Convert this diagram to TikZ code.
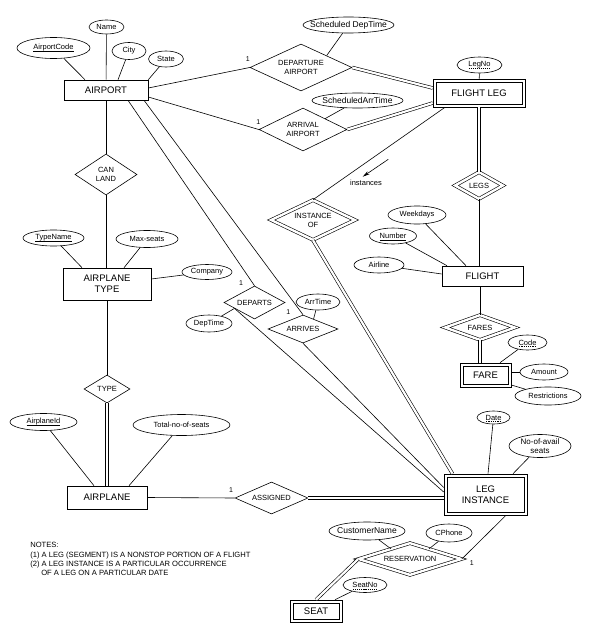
\documentclass[tikz,border=0pt]{standalone}
\usepackage{fontspec}
\setmainfont{Liberation Sans}
\usetikzlibrary{shapes.geometric,arrows.meta,calc}
\newcommand\zb[1]{\makebox[0pt]{#1}}
\newsavebox\ulbox
\newcommand\sul[1]{\sbox\ulbox{#1}\rlap{\smash{\raisebox{-1.6pt}{\rule{\wd\ulbox}{0.45pt}}}}\usebox\ulbox}
\newcommand\dul[1]{\sbox\ulbox{#1}\rlap{\smash{\raisebox{-1.6pt}{\hbox to \wd\ulbox{\xleaders\hbox to 2pt{\hss\rule{1.1pt}{0.45pt}\hss}\hfill}}}}\usebox\ulbox}
\begin{document}
\begin{tikzpicture}[x=1pt,y=-1pt,line width=0.6pt,
  ent/.style={draw, rectangle, inner sep=0pt, font=\fontsize{9.5}{11}\selectfont, align=center},
  rel/.style={draw, diamond, inner sep=0pt, font=\fontsize{7.5}{9}\selectfont, align=center},
  wrel/.style={rel, double, double distance=2.4pt},
  attr/.style={draw, ellipse, inner sep=0pt, font=\fontsize{7.5}{9}\selectfont},
  big/.style={font=\fontsize{8.5}{10}\selectfont},
  card/.style={font=\fontsize{7}{8}\selectfont, inner sep=0pt},
  note/.style={font=\fontsize{7.6}{9}\selectfont, inner sep=0pt, anchor=base west},
  dbl/.style={double, double distance=2.2pt},
  sz/.style 2 args={minimum width=#1pt, minimum height=#2pt}]
\fill[white] (0,0) rectangle (598,642);
\useasboundingbox (0,0) rectangle (598,642);

% AIRPORT
\node[ent, sz={84}{20}] (AP) at (106,90) {AIRPORT};
\node[attr, sz={35}{14}] (Name) at (106.5,27) {\zb{Name}};
\node[attr, sz={73}{21}] (AC) at (53.5,48) {\zb{\sul{AirportCode}}};
\node[attr, sz={34}{17}] (City) at (129,51) {\zb{City}};
\node[attr, sz={35}{16}] (State) at (166,59) {\zb{State}};
\node[rel, sz={62}{41}, aspect=1.51] (CL) at (106,174.5) {CAN\\LAND};

% AIRPLANE TYPE
\node[ent, sz={88}{32}] (AT) at (107,284) {AIRPLANE\\TYPE};
\node[attr, sz={61}{16}] (TN) at (53.5,238) {\zb{\sul{TypeName}}};
\node[attr, sz={62}{17}] (MS) at (147,239) {\zb{Max-seats}};
\node[attr, sz={50}{15}] (CO) at (207,272) {\zb{Company}};
\node[rel, sz={46}{28}, aspect=1.64] (TY) at (107,389) {TYPE};

% AIRPLANE
\node[ent, sz={80}{23}] (APL) at (107,497.5) {AIRPLANE};
\node[attr, sz={67}{17}] (AI) at (43.5,422) {\zb{\sul{AirplaneId}}};
\node[attr, sz={97}{21}] (TS) at (181.5,425) {\zb{Total-no-of-seats}};
\node[rel, sz={73}{32}, aspect=2.28] (AS) at (271.5,498) {ASSIGNED};

% departure / arrival airport
\node[rel, sz={102}{47}, aspect=2.17] (DA) at (301,67.5) {DEPARTURE\\AIRPORT};
\node[rel, sz={88}{43}, aspect=2.05] (AA) at (303,129.5) {ARRIVAL\\AIRPORT};
\node[attr, big, sz={91}{16}] (SD) at (348.5,25) {\zb{Scheduled DepTime}};
\node[attr, big, sz={91}{15}] (SA) at (357.5,100.5) {\zb{ScheduledArrTime}};

% FLIGHT LEG
\node[ent, sz={92}{28}] (FL) at (479,93) {FLIGHT LEG};
\draw ([shift={(3.5pt,-3.5pt)}]FL.north west) rectangle ([shift={(-3.5pt,3.5pt)}]FL.south east);
\node[attr, sz={45}{16}] (LN) at (479.5,65) {\zb{\dul{LegNo}}};
\node[wrel, sz={84}{40}, aspect=2.1] (IO) at (313,220) {INSTANCE\\OF};
\node[wrel, sz={48}{27}, aspect=1.78] (LEGS) at (479,185.5) {LEGS};

% FLIGHT
\node[ent, sz={81}{20}] (FLT) at (482.5,276) {FLIGHT};
\node[attr, sz={58}{18}] (WD) at (417,215) {\zb{Weekdays}};
\node[attr, sz={47}{16}] (NU) at (393,236) {\zb{\sul{Number}}};
\node[attr, sz={50}{16}] (AL) at (379,265) {\zb{Airline}};
\node[wrel, sz={70}{25}, aspect=2.8] (FARES) at (480,327.5) {FARES};

% FARE
\node[ent, sz={51}{24}] (FARE) at (485.5,375) {FARE};
\draw ([shift={(3.5pt,-3.5pt)}]FARE.north west) rectangle ([shift={(-3.5pt,3.5pt)}]FARE.south east);
\node[attr, sz={39}{15}] (CD) at (527.5,342.5) {\zb{\dul{Code}}};
\node[attr, sz={48}{16}] (AM) at (544,372) {\zb{Amount}};
\node[attr, sz={66}{18}] (RS) at (548,396) {\zb{Restrictions}};

% DEPARTS / ARRIVES
\node[rel, sz={61}{33}, aspect=1.85] (DEP) at (254.5,302.5) {DEPARTS};
\node[attr, sz={46}{17}] (DT) at (209,323.5) {\zb{DepTime}};
\node[rel, sz={70}{28}, aspect=2.5] (ARR) at (303,329) {ARRIVES};
\node[attr, sz={44}{16}] (ART) at (318,302) {\zb{ArrTime}};

% LEG INSTANCE
\node[ent, sz={83}{41}] (LI) at (485.5,494.5) {LEG\\INSTANCE};
\draw ([shift={(3.5pt,-3.5pt)}]LI.north west) rectangle ([shift={(-3.5pt,3.5pt)}]LI.south east);
\node[attr, sz={33}{13}] (DTE) at (493.5,417.5) {\zb{\dul{Date}}};
\node[attr, sz={62}{23}, align=center, font=\fontsize{8}{9}\selectfont] (NA) at (540,446) {No-of-avail\\seats};

% RESERVATION / SEAT
\node[wrel, sz={103}{32}, aspect=3.2] (RES) at (410,559) {RESERVATION};
\node[attr, big, sz={76}{18}] (CN) at (367,531) {\zb{CustomerName}};
\node[attr, sz={46}{18}] (CP) at (449,533) {\zb{CPhone}};
\node[ent, sz={52}{22}] (SEAT) at (316,611) {SEAT};
\draw ([shift={(3.5pt,-3.5pt)}]SEAT.north west) rectangle ([shift={(-3.5pt,3.5pt)}]SEAT.south east);
\node[attr, sz={44}{15}] (SN) at (365,585) {\zb{\dul{SeatNo}}};

% connectors: AIRPORT
\draw (Name) -- (AP);
\draw (AC) -- ([xshift=-21pt]AP.north);
\draw (City) -- ([xshift=12pt]AP.north);
\draw (State) -- (AP.north east);
\draw (AP) -- (CL);
\draw (CL.south) -- (CL.south |- AT.north);
\draw (TN) -- ([xshift=-25pt]AT.north);
\draw (MS) -- ([xshift=17pt]AT.north);
\draw (CO) -- ([yshift=5pt]AT.east);
\draw (AT) -- (TY);
\draw[dbl] (TY.south) -- (APL.north);
\draw (AI) -- ([xshift=-13pt]APL.north);
\draw (TS) -- ([xshift=22pt]APL.north);
\draw (APL.east) -- (AS.west);
\draw[dbl] (AS.east) -- (AS.east -| LI.west);

\draw ([yshift=2pt]AP.east) -- (DA.west);
\draw ([yshift=-7pt]AP.east) -- (AA.west);
\draw (SD) -- (DA.north east);
\draw (SA) -- (AA.north east);
\draw[dbl] (DA.east) -- ([yshift=5pt]FL.west);
\draw[dbl] (AA.east) -- ([yshift=-10pt]FL.west);
\draw (LN) -- (FL);

\draw ([xshift=-34pt]FL.south) -- (IO.north);
\coordinate (ia) at (388.3,159.3);
\coordinate (ib) at (362.7,176.7);
\draw[-{Stealth[length=7pt,width=3.5pt]}] (ia) -- (ib);
\node[font=\fontsize{7.5}{9}\selectfont, inner sep=0pt] (inst) at (366,183) {instances};
\draw[dbl] (IO.south) -- ([xshift=-33pt]LI.north);

\draw[dbl] (FL) -- (LEGS);
\draw (LEGS.south) -- (LEGS.south |- FLT.north);
\draw (WD) -- ([xshift=-16.5pt]FLT.north);
\draw (NU) -- ([xshift=-35.5pt]FLT.north);
\draw (AL) -- ([yshift=2pt]FLT.west);
\draw (FARES.north |- FLT.south) -- (FARES.north);
\draw[dbl] (FARES.south) -- (FARES.south |- FARE.north);
\draw (CD) -- ([xshift=14.5pt]FARE.north);
\draw (AM.west) -- (AM.west -| FARE.east);
\draw (RS) -- ([yshift=-10pt]FARE.east);

\draw ([xshift=22pt]AP.south) -- (DEP.north);
\draw ([xshift=38pt]AP.south) -- (ARR.north);
\coordinate (depsw) at ($(DEP.west)!0.35!(DEP.south)$);
\draw (depsw) -- ([yshift=2.5pt]LI.west);
\draw (ARR.south) -- ([yshift=7pt]LI.west);
\draw (DT) -- (depsw);
\draw (ART) -- ($(ARR.north)!0.3!(ARR.east)$);

\draw (DTE) -- ([xshift=2.5pt]LI.north);
\draw (NA) -- ([xshift=27.5pt]LI.north);
\draw ([xshift=20.5pt]LI.south) -- (RES.east);
\draw (CN) -- ($(RES.north)!0.37!(RES.west)$);
\draw (CP) -- ($(RES.north)!0.37!(RES.east)$);
\draw[dbl] (SEAT.north) -- (RES.west);
\draw (SN) -- ([xshift=19pt]SEAT.north);

% cardinalities
\node[card] (c1) at (247.7,59.3) {1};
\node[card] (c2) at (258.3,122) {1};
\node[card] (c3) at (241,283.3) {1};
\node[card] (c4) at (288.3,312.3) {1};
\node[card] (c5) at (231,490) {1};
\node[card] (c6) at (471.7,562.7) {1};

% notes
\node[note] (N0) at (30,547.3) {NOTES:};
\node[note] (N1) at (30,557) {(1) A LEG (SEGMENT) IS A NONSTOP PORTION OF A FLIGHT};
\node[note] (N2) at (30,566.5) {(2) A LEG INSTANCE IS A PARTICULAR OCCURRENCE};
\node[note] (N3) at (41,575.8) {OF A LEG ON A PARTICULAR DATE};
\end{tikzpicture}
\end{document}
